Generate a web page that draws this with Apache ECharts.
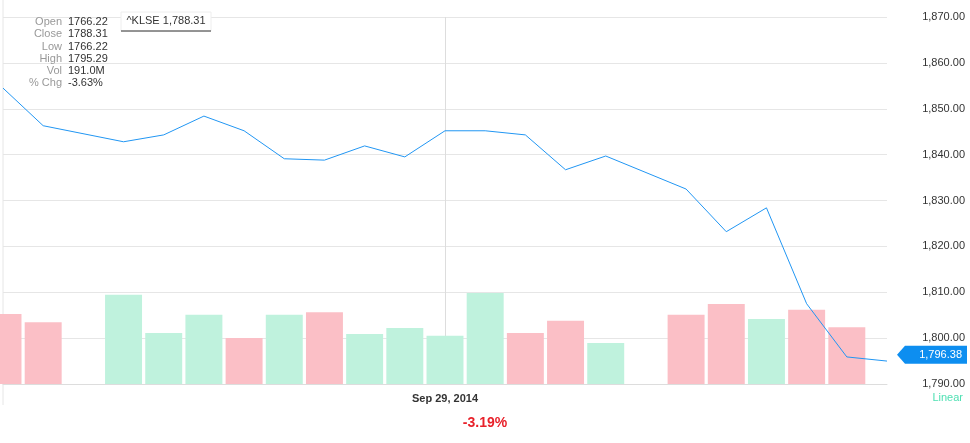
<!DOCTYPE html>
<html>
<head>
<meta charset="utf-8">
<script src="https://cdn.jsdelivr.net/npm/echarts@6/dist/echarts.min.js"></script>
<style>html,body{margin:0;padding:0;background:#fff}#c{width:970px;height:443px}</style>
</head>
<body>
<div id="c"></div>
<script>
// 23 trading slots, two empty ones (index 2 and 16)
const days = ['d0','d1','d2','d3','d4','d5','d6','d7','d8','d9','d10','Sep 29, 2014','d12','d13','d14','d15','d16','d17','d18','d19','d20','d21','d22'];
const closeVals = [1854.5,1846.3,null,1842.8,1844.3,1848.4,1845.2,1839.1,1838.8,1841.9,1839.5,1845.2,1845.2,1844.3,1836.7,1839.7,null,1832.5,1823.2,1828.4,1807.5,1795.9,1795.0];
const volVals = [154,136,null,196,112,152,101,152,158,110,123,106,200,112,139,90,null,152,176,143,163,125,null];
const volUp = [0,0,null,1,1,1,0,1,0,1,1,1,1,0,0,1,null,0,0,1,0,0,null];
const yTicks = [1790,1800,1810,1820,1830,1840,1850,1860,1870];
const lastVal = 1796.38;

const chart = echarts.init(document.getElementById('c'));
const labelCol = '#333';
chart.setOption({
  animation: false,
  grid: { left: 3, right: 83, top: 17, bottom: 59 },
  xAxis: {
    type: 'category', data: days, boundaryGap: false,
    axisLine: { lineStyle: { color: '#ddd' } }, axisTick: { show: false },
    axisLabel: { interval: (i) => i === 11, color: '#333', fontSize: 11, fontWeight: 'bold', margin: 9 },
    splitLine: { show: true, interval: (i) => i === 11, lineStyle: { color: '#ddd' } }
  },
  yAxis: [{
    type: 'value', position: 'right', min: 1790, max: 1870, interval: 10,
    axisLine: { show: false }, axisTick: { show: false },
    axisLabel: { color: labelCol, fontSize: 11, align: 'right', margin: 78, formatter: v => v.toLocaleString('en-US', { minimumFractionDigits: 2 }) },
    splitLine: { lineStyle: { color: '#e6e6e6' } }
  }, {
    type: 'value', min: 0, max: 807, show: false
  }],
  series: [{
    type: 'bar', yAxisIndex: 1, barWidth: '92%', barGap: '0%', clip: true,
    data: volVals.map((v, i) => v == null ? null : {
      value: v, itemStyle: { color: volUp[i] ? '#bff2dd' : '#fbbfc6' }
    }),
    z: 1
  }, {
    type: 'line', data: closeVals, connectNulls: true, showSymbol: false,
    lineStyle: { color: '#2196f3', width: 1 }, z: 3
  }]
});

const py = chart.convertToPixel({ yAxisIndex: 0 }, lastVal);
chart.setOption({
  graphic: [
    { type: 'polygon', shape: { points: [[897, py], [905, py - 9], [967, py - 9], [967, py + 9], [905, py + 9]] }, style: { fill: '#0d8ef0' } },
    { type: 'text', x: 962, y: py, style: { text: lastVal.toLocaleString('en-US', { minimumFractionDigits: 2 }), fill: '#fff', font: '11px Arial', align: 'right', verticalAlign: 'middle' } },
    { type: 'text', x: 963, y: 398, style: { text: 'Linear', fill: '#4fe0b3', font: '11px Arial', align: 'right', verticalAlign: 'middle' } },
    { type: 'text', x: 485, y: 423, style: { text: '-3.19%', fill: '#e8212a', font: 'bold 14px Arial', align: 'center', verticalAlign: 'middle' } },
    { type: 'text', x: 62, y: 16, style: { text: 'Open\nClose\nLow\nHigh\nVol\n% Chg', fill: '#999', font: '11px Arial', align: 'right', lineHeight: 12.2 } },
    { type: 'text', x: 68, y: 16, style: { text: '1766.22\n1788.31\n1766.22\n1795.29\n191.0M\n-3.63%', fill: '#333', font: '11px Arial', lineHeight: 12.2 } },
    { type: 'rect', shape: { x: 121, y: 12, width: 90, height: 19 }, style: { fill: '#fff', stroke: '#eee' } },
    { type: 'line', shape: { x1: 121, y1: 31, x2: 211, y2: 31 }, style: { stroke: '#333', lineWidth: 1 } },
    { type: 'text', x: 166, y: 21, style: { text: '^KLSE 1,788.31', fill: '#333', font: '11px Arial', align: 'center', verticalAlign: 'middle' } },
    { type: 'line', shape: { x1: 3, y1: 0, x2: 3, y2: 405 }, style: { stroke: '#e6e6e6' } }
  ]
});
</script>
</body>
</html>
